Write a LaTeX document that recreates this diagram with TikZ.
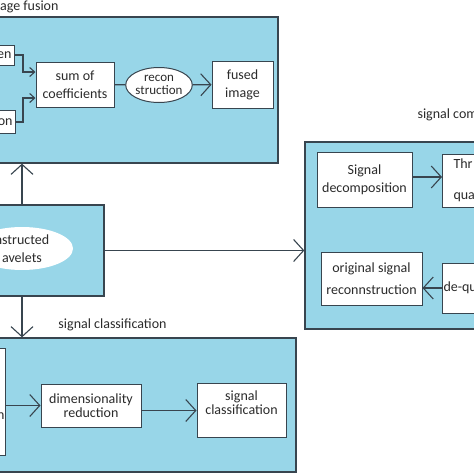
\documentclass[tikz,border=0pt]{standalone}
\usepackage{fontspec}
\setmainfont{Carlito}
\usetikzlibrary{arrows.meta,shapes.geometric}
\definecolor{panelblue}{HTML}{98D6E8}
\definecolor{edge}{HTML}{38454F}
\definecolor{ink}{HTML}{2B2B2B}
\begin{document}
\begin{tikzpicture}[x=1pt, y=-1pt,
    font=\fontsize{14}{18}\selectfont, text=ink,
    grp/.style={draw=edge, line width=1.3pt, fill=panelblue, inner sep=0pt},
    blk/.style={draw=edge, line width=1pt, fill=white, align=center, inner sep=2pt},
    ln/.style={draw=edge, line width=1.1pt},
    arr/.style={ln, -{Straight Barb[length=10pt,width=22pt]}},
    sarr/.style={ln, -{Straight Barb[length=5pt,width=9pt]}}]
    % Page and clipping
    \useasboundingbox (0,0) rectangle (474,474);
    \clip (0,0) rectangle (474,474);

    % Image fusion panel
    \node[grp, minimum width=283pt, minimum height=146pt] (fusion) at (136.5,90) {};
    \node[anchor=base east] (fusionlbl) at (62,10) {mage fusion};
    \node[blk, anchor=east, minimum height=20pt, inner xsep=3pt] (en) at (15,55) {en};
    \node[blk, anchor=east, minimum height=23pt, inner xsep=3pt] (on) at (16,122) {on};
    \node[blk, minimum width=78pt, minimum height=45pt] (sum) at (75,84.5) {sum of\\coefficients};
    \node[blk, ellipse, minimum width=64pt, minimum height=35pt, inner sep=0pt,
          font=\fontsize{13}{13}\selectfont] (recon) at (159,85) {recon\\struction};
    \node[blk, minimum width=61pt, minimum height=47pt] (fused) at (242.5,84.5) {fused\\image};

    \draw[sarr] (en.east) -- ++(8,0) |- ([yshift=12.5pt]sum.west);
    \draw[sarr] (on.east) -- ++(7,0) |- ([yshift=-13.5pt]sum.west);
    \draw[ln] (sum) -- (recon);
    \draw[arr] (recon) -- (fused);

    % Wavelet panel
    \node[grp, minimum width=109pt, minimum height=91pt] (wav) at (49.5,250.5) {};
    \node[ellipse, fill=white, minimum width=102pt, minimum height=43pt, inner sep=0pt,
          align=center] (wavell) at (22,248.5) {nstructed\\avelets};

    % Signal compression panel
    \node[grp, minimum width=185pt, minimum height=187pt] (comp) at (397.5,235.5) {};
    \node[anchor=west] (complbl) at (414,115) {signal com};
    \node[blk, minimum width=95pt, minimum height=55pt] (decomp) at (364.5,179.5) {Signal\\decomposition};
    \node[blk, anchor=west, minimum height=53pt, text width=40pt, align=left,
          inner xsep=11pt] (thr) at (442,180.5) {Thr\\[13pt]qua};
    \node[blk, minimum width=101pt, minimum height=53pt, font=\fontsize{14}{22}\selectfont]
          (orig) at (371.5,278.5) {original signal\\reconnstruction};
    \node[blk, anchor=west, minimum height=50pt, text width=40pt, align=left,
          inner xsep=1pt] (dequ) at (442,288) {de-qu};

    \draw[arr] (decomp.east |- 0,177) -- (thr.west |- 0,177);
    \draw[arr] (dequ.west) -- (dequ.west -| orig.east);

    % Signal classification panel
    \node[grp, minimum width=301pt, minimum height=134pt] (cls) at (145.5,405) {};
    \node (clslbl) at (112.5,325) {signal classification};
    \node[blk, anchor=east, minimum height=107pt, inner xsep=1pt]
          (feat) at (6,401.5) {\mbox{}\\[18pt]n};
    \node[blk, minimum width=100pt, minimum height=43pt, font=\fontsize{14}{14}\selectfont]
          (dimred) at (91,405.5) {dimensionality\\reduction};
    \node[blk, minimum width=89pt, minimum height=54pt, font=\fontsize{14}{14}\selectfont]
          (sigcls) at (241.5,410) {signal\\classification\\\mbox{}};

    \draw[arr] (feat.east |- dimred) -- (dimred);
    \draw[arr] ([yshift=-5pt]dimred.east) -- ([yshift=-5pt]dimred.east -| sigcls.west);

    % Links between the panels
    \draw[arr] (wavell.north |- wav.north) -- (wavell.north |- fusion.south);
    \draw[arr] (wav.east) -- (wav.east -| comp.west);
    \draw[arr] (wavell.south |- wav.south) -- (wavell.south |- cls.north);
\end{tikzpicture}
\end{document}
